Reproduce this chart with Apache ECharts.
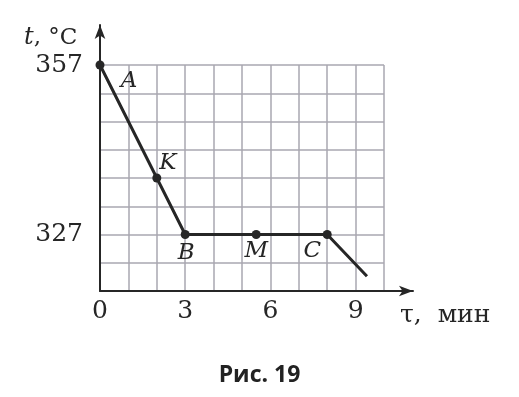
<!DOCTYPE html>
<html>
<head>
<meta charset="utf-8">
<script src="https://cdn.jsdelivr.net/npm/echarts@6/dist/echarts.min.js"></script>
<style>html,body{margin:0;padding:0;background:#fff}#c{width:519px;height:397px}</style>
</head>
<body>
<div id="c"></div>
<script>
// Data
const tau = [0, 2, 3, 5.5, 8, 9.4];          // time, min
const temp = [357, 337, 327, 327, 327, 319.6]; // temperature, °C
const pointNames = ['A', 'K', 'B', 'M', 'C', ''];
const xTickLabels = [0, 3, 6, 9];
const yTickLabels = [327, 357];

// Label offsets (style)
const labelOffsets = [[29, 16], [11, -15], [1, 19], [0, 17], [-15, 17], [0, 0]];

const serif = 'DejaVu Serif';
const ink = '#262626';
const gridColor = '#a9a7b0';

const seriesData = tau.map((x, i) => ({
  value: [x, temp[i]],
  name: pointNames[i],
  symbol: pointNames[i] ? 'circle' : 'none',
  label: {
    show: !!pointNames[i],
    position: 'inside',
    offset: labelOffsets[i],
    formatter: pointNames[i],
    fontFamily: serif,
    fontStyle: 'italic',
    fontSize: 23,
    color: ink
  }
}));

const chart = echarts.init(document.getElementById('c'), null, {renderer: 'canvas'});
chart.setOption({
  animation: false,
  backgroundColor: '#fff',
  title: [
    {
      text: '{i|t}, °C',
      left: 19, top: 21,
      textStyle: {
        fontFamily: serif, fontSize: 23, fontWeight: 'normal', color: ink,
        rich: {i: {fontFamily: serif, fontStyle: 'italic', fontSize: 24, color: ink}}
      }
    },
    {
      text: 'τ,  мин',
      left: 395, top: 298,
      textStyle: {fontFamily: serif, fontSize: 25, fontWeight: 'normal', color: ink}
    },
    {
      text: 'Рис. 19',
      left: 'center', top: 359,
      textStyle: {fontFamily: 'Open Sans', fontSize: 23, fontWeight: 'bold', color: '#222'}
    }
  ],
  grid: [
    {left: 100, top: 65, width: 284, height: 226},
    {left: 100, top: 25, width: 313, height: 266}
  ],
  xAxis: [
    {
      gridIndex: 0, type: 'value', min: 0, max: 10, interval: 1,
      axisLine: {show: false}, axisTick: {show: false},
      splitLine: {show: true, showMinLine: true, showMaxLine: true, lineStyle: {color: gridColor, width: 1.5}},
      axisLabel: {
        margin: 8, fontFamily: serif, fontSize: 25, color: ink,
        formatter: v => xTickLabels.includes(v) ? String(v) : ''
      }
    },
    {
      gridIndex: 1, type: 'value', min: 0, max: 1,
      axisLine: {show: true, symbol: ['none', 'arrow'], symbolSize: [8, 14], lineStyle: {color: ink, width: 2}},
      axisTick: {show: false}, axisLabel: {show: false}, splitLine: {show: false}
    }
  ],
  yAxis: [
    {
      gridIndex: 0, type: 'value', min: 317, max: 357, interval: 5,
      axisLine: {show: false}, axisTick: {show: false},
      splitLine: {show: true, showMinLine: true, showMaxLine: true, lineStyle: {color: gridColor, width: 1.5}},
      axisLabel: {
        margin: 17, fontFamily: serif, fontSize: 25, color: ink,
        formatter: v => yTickLabels.includes(v) ? String(v) : ''
      }
    },
    {
      gridIndex: 1, type: 'value', min: 0, max: 1,
      axisLine: {show: true, symbol: ['none', 'arrow'], symbolSize: [8, 14], lineStyle: {color: ink, width: 2}},
      axisTick: {show: false}, axisLabel: {show: false}, splitLine: {show: false}
    }
  ],
  series: [{
    type: 'line',
    xAxisIndex: 0, yAxisIndex: 0,
    data: seriesData,
    symbolSize: 9,
    itemStyle: {color: ink},
    lineStyle: {color: ink, width: 3},
    z: 5
  }]
});
</script>
</body>
</html>
